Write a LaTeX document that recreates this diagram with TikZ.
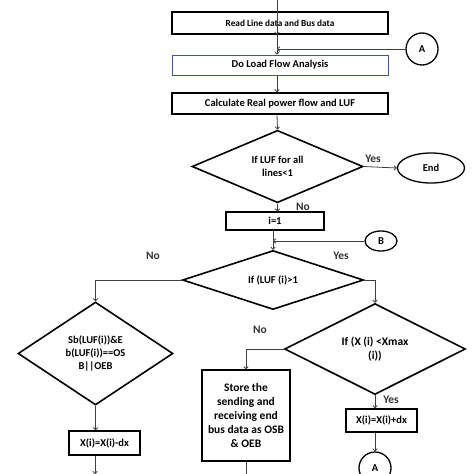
\documentclass[tikz,border=0pt]{standalone}
\usepackage{fontspec}
\setmainfont{Carlito}
\usetikzlibrary{shapes.geometric,arrows.meta}

\begin{document}
\begin{tikzpicture}[x=1pt,y=-1pt,
font=\fontsize{10.5}{13}\selectfont\bfseries,
procnode/.style={rectangle, draw=black, line width=1.6pt, inner sep=1pt},
decnode/.style={diamond, draw=black, line width=1.6pt, inner sep=0pt, align=center},
termnode/.style={ellipse, draw=black, line width=1.3pt, inner sep=0pt},
labnode/.style={text=black!80, font=\fontsize{11.5}{13}\selectfont\bfseries},
flow/.style={draw=black!75, line width=0.8pt, -{To[length=3pt,width=5pt]}},
plain/.style={draw=black!75, line width=0.8pt},
]
    \useasboundingbox (0,0) rectangle (474,474);

    \coordinate (top) at (277,0);
    \node[procnode, font=\fontsize{9.3}{11}\selectfont\bfseries, minimum width=216pt, minimum height=22pt] (read) at (280,23){Read Line data and Bus data};
    \node[procnode, draw={rgb,255:red,60;green,90;blue,140}, line width=0.9pt, minimum width=216pt, minimum height=20pt] (lfa) at (280,65){Do Load Flow Analysis};
    \node[procnode, minimum width=216pt, minimum height=21pt] (calc) at (280,103.5){Calculate Real power flow and LUF};
    \node[termnode, minimum size=32pt] (A1) at (422,49){A};

    \node[decnode, minimum width=171pt, minimum height=67pt] (allluf) at (277.5,166.5){If LUF for all\\lines<1};
    \node[termnode, minimum width=67pt, minimum height=30pt] (end) at (431,168){End};
    \node[procnode, line width=1.1pt, minimum width=98pt, minimum height=18pt] (init) at (275,221){i=1};
    \node[termnode, minimum width=32pt, minimum height=20pt] (B) at (381,241){B};

    \node[decnode, minimum width=181pt, minimum height=52pt] (cond) at (273,280){If (LUF (i)>1};
    \node[decnode, minimum width=155pt, minimum height=103pt] (sb) at (95.5,353.5){Sb(LUF(i))\&E\\b(LUF(i))==OS\\B||OEB};
    \node[decnode, font=\fontsize{11.5}{14}\selectfont\bfseries, minimum width=181pt, minimum height=68pt] (xmax) at (375,349){If (X (i) <Xmax\\(i))};

    \node[procnode, minimum width=71pt, minimum height=24pt] (xminus) at (104.5,443){X(i)=X(i)-dx};
    \node[procnode, font=\fontsize{11.5}{14}\selectfont\bfseries, align=center, minimum width=88pt, minimum height=91pt] (store) at (246,415.5){Store the\\sending and\\receiving end\\bus data as OSB\\\& OEB};
    \node[procnode, minimum width=71pt, minimum height=23pt] (xplus) at (381.5,420.5){X(i)=X(i)+dx};
    \node[termnode, minimum size=32pt] (A2) at (375,468){A};

    \node[labnode] (yes1) at (373,159){Yes};
    \node[labnode] (no1) at (303,207){No};
    \node[labnode] (no2) at (153,256){No};
    \node[labnode] (yes2) at (341,256){Yes};
    \node[labnode] (no3) at (260,330){No};
    \node[labnode] (yes3) at (391,400){Yes};

    \coordinate (outL) at (95,474);
    \coordinate (outM) at (246,474);

    \draw[flow] (top) -- (read.south -| top);
    \draw[flow] (read.south -| top) -- (lfa.north -| top);
    \draw[flow] (A1.west) -- (A1.west -| top);
    \draw[flow] (lfa.south -| top) -- (calc.north -| top);
    \draw[flow] (calc.south -| top) -- (allluf.north);
    \draw[flow] (allluf.east) -- (end.west);
    \draw[flow] (allluf.south) -- (init.north -| allluf.south);
    \draw[flow] (init.south -| cond.north) -- (cond.north);
    \draw[flow] (B.west) -- (B.west -| cond.north);
    \draw[flow] (cond.west) -| (sb.north);
    \draw[flow] (cond.east) -| (xmax.north);
    \draw[flow] (sb.south) -- (xminus.north -| sb.south);
    \draw[flow] (xminus.south -| outL) -- (outL);
    \draw[flow] (xmax.west) -| (store.north);
    \draw[plain] (store.south) -- (outM);
    \draw[flow] (xmax.south) -- (xplus.north -| xmax.south);
    \draw[flow] (xplus.south -| xmax.south) -- (A2.north);
\end{tikzpicture}
\end{document}
